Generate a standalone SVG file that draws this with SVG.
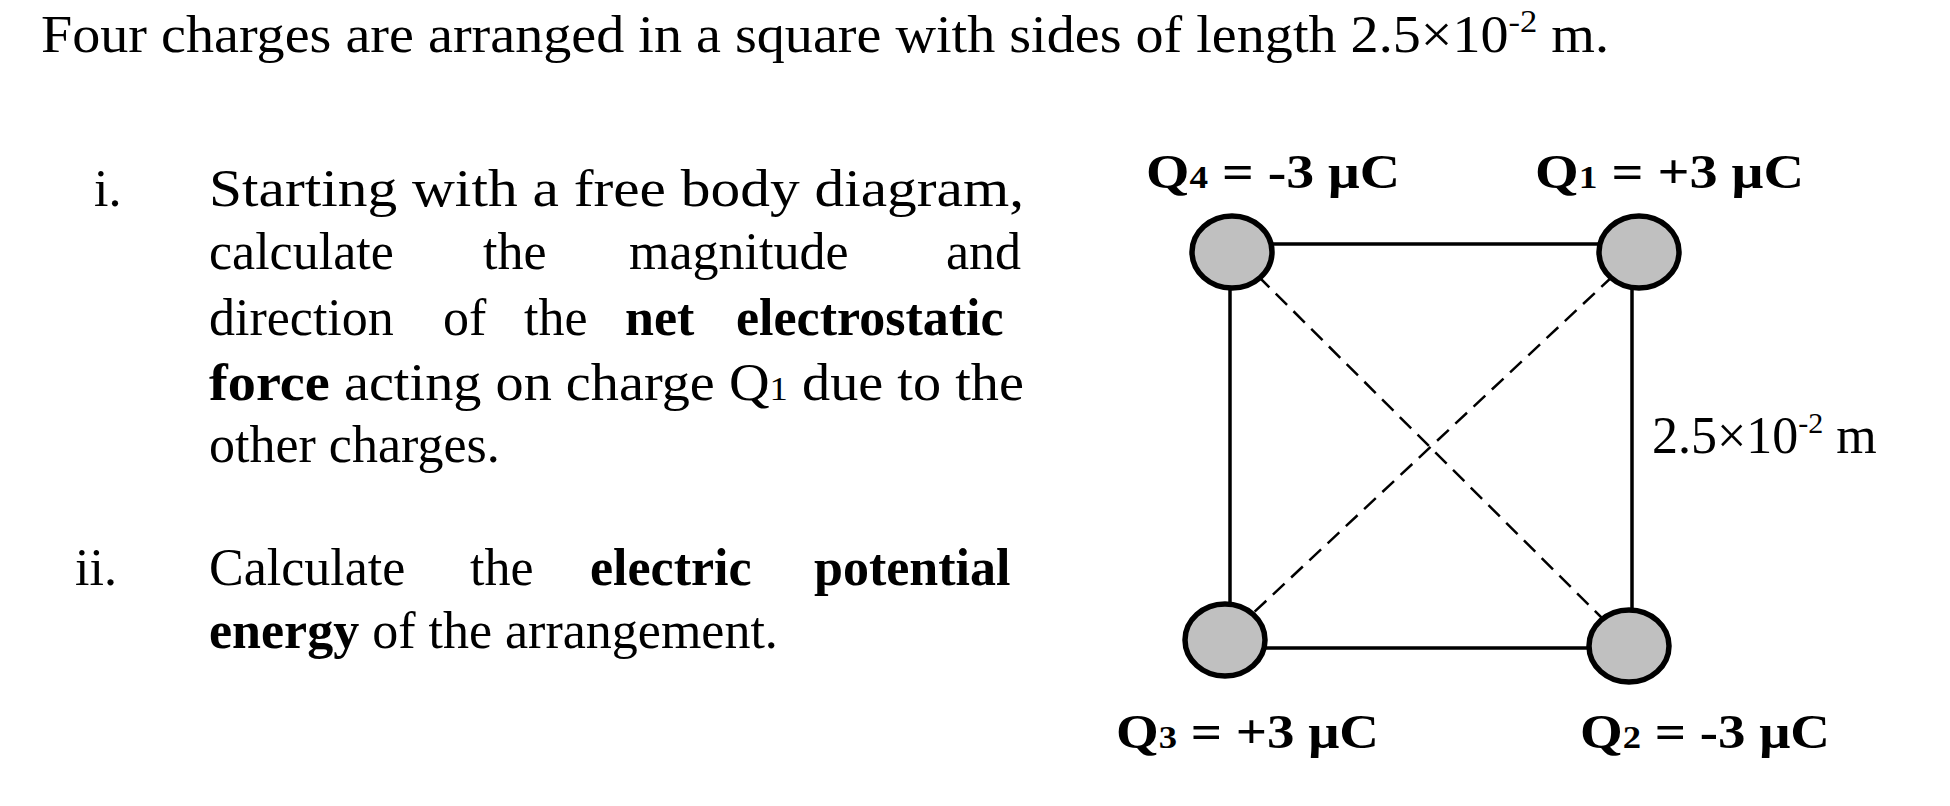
<svg xmlns="http://www.w3.org/2000/svg" width="1950" height="806" viewBox="0 0 1950 806">
<style>
text{font-family:"Liberation Serif","Times New Roman",serif;fill:#000}
.t{font-size:52px}
.b{font-weight:bold}
.lab{font-size:48px;font-weight:bold}
.side{stroke:#000;stroke-width:3.5;fill:none}
.diag{stroke:#000;stroke-width:2.5;stroke-dasharray:16 9;fill:none}
.q{fill:#c0c0c0;stroke:#000;stroke-width:5.5}
</style>
<rect width="1950" height="806" fill="#fff"/>
<text class="t" x="41" y="52" textLength="1568" lengthAdjust="spacingAndGlyphs">Four charges are arranged in a square with sides of length 2.5×10<tspan dy="-20" font-size="32">-2</tspan><tspan dy="20"> m.</tspan></text>
<g id="questions">
<text class="t" x="94" y="206">i.</text>
<text class="t" x="209" y="206" textLength="815" lengthAdjust="spacingAndGlyphs">Starting with a free body diagram,</text>
<text class="t" y="269"><tspan x="209">calculate</tspan><tspan x="483">the</tspan><tspan x="629">magnitude</tspan><tspan x="946">and</tspan></text>
<text class="t" y="335"><tspan x="209">direction</tspan><tspan x="443">of</tspan><tspan x="524">the</tspan><tspan x="625" class="b">net</tspan><tspan x="736" class="b">electrostatic</tspan></text>
<text class="t" x="209" y="400" textLength="815" lengthAdjust="spacingAndGlyphs"><tspan class="b">force</tspan> acting on charge Q<tspan font-size="34">1</tspan> due to the</text>
<text class="t" x="209" y="462">other charges.</text>
<text class="t" x="75" y="585">ii.</text>
<text class="t" y="585"><tspan x="209">Calculate</tspan><tspan x="470">the</tspan><tspan x="590" class="b">electric</tspan><tspan x="814" class="b">potential</tspan></text>
<text class="t" x="209" y="648"><tspan class="b">energy</tspan> of the arrangement.</text>
</g>
<g id="connectors">
<line class="side" x1="1232" y1="244" x2="1639" y2="244"/>
<line class="side" x1="1230" y1="252" x2="1230" y2="640"/>
<line class="side" x1="1632" y1="252" x2="1632" y2="646"/>
<line class="side" x1="1225" y1="648" x2="1629" y2="648"/>
<line class="diag" x1="1258" y1="276" x2="1605" y2="621"/>
<line class="diag" x1="1613" y1="276" x2="1250" y2="616"/>
</g>
<g id="Q4"><ellipse class="q" cx="1232" cy="252" rx="40" ry="36"/><text class="lab" x="1146" y="188" textLength="254" lengthAdjust="spacingAndGlyphs">Q<tspan font-size="32">4</tspan> = -3 μC</text></g>
<g id="Q1"><ellipse class="q" cx="1639" cy="252" rx="40" ry="36"/><text class="lab" x="1535" y="188" textLength="269" lengthAdjust="spacingAndGlyphs">Q<tspan font-size="32">1</tspan> = +3 μC</text></g>
<g id="Q3"><ellipse class="q" cx="1225" cy="640" rx="40" ry="36"/><text class="lab" x="1116" y="748" textLength="263" lengthAdjust="spacingAndGlyphs">Q<tspan font-size="32">3</tspan> = +3 μC</text></g>
<g id="Q2"><ellipse class="q" cx="1629" cy="646" rx="40" ry="36"/><text class="lab" x="1580" y="748" textLength="250" lengthAdjust="spacingAndGlyphs">Q<tspan font-size="32">2</tspan> = -3 μC</text></g>
<text class="t" x="1652" y="453" font-size="48">2.5×10<tspan dy="-20" font-size="30">-2</tspan><tspan dy="20"> m</tspan></text>
</svg>
